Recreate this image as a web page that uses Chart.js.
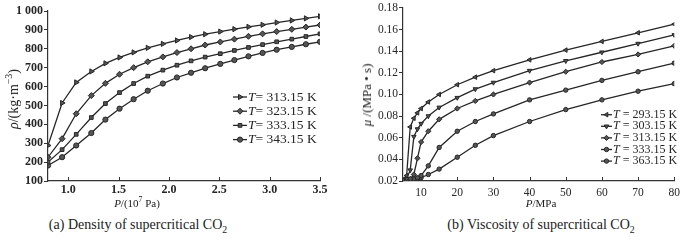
<!DOCTYPE html>
<html><head><meta charset="utf-8">
<script src="https://cdn.jsdelivr.net/npm/chart.js@4.4.1/dist/chart.umd.min.js"></script>
<style>
body{margin:0;background:#fff;width:685px;height:241px;position:relative;overflow:hidden;font-family:'Liberation Serif',serif;color:#222}
.cv{position:absolute;top:0;height:200px}
.t{position:absolute;white-space:nowrap;transform:translate(-50%,-50%)}
.yt{position:absolute;white-space:nowrap;transform:translate(-50%,-50%) rotate(-90deg)}
sup{font-size:70%;line-height:0}
sub{font-size:70%;line-height:0}
</style></head><body>
<div class="cv" style="left:0;width:330px"><canvas id="rhoChart"></canvas></div>
<div class="cv" style="left:350px;width:335px"><canvas id="muChart"></canvas></div>
<div class="yt" style="left:14px;top:99px;font-size:14px"><i>ρ</i>/(kg·m<sup>−3</sup>)</div>
<div class="yt" style="left:367px;top:95px;font-size:13px"><i>μ</i> /(MPa • s)</div>
<div class="t" style="left:137px;top:203px;font-size:11px"><i>P</i>/(10<sup>7</sup> Pa)</div>
<div class="t" style="left:541px;top:203px;font-size:11px"><i>P</i>/MPa</div>
<div class="t" style="left:138px;top:225px;font-size:14px">(a) Density of supercritical CO<sub>2</sub></div>
<div class="t" style="left:541px;top:225px;font-size:14px">(b) Viscosity of supercritical CO<sub>2</sub></div>
<script>
// (a) density, P in 10^7 Pa
const LEFT_P   = [0.8,0.94,1.08,1.23,1.37,1.51,1.65,1.79,1.94,2.08,2.22,2.36,2.51,2.65,2.79,2.93,3.07,3.22,3.36,3.5];
const RHO_313  = [288,513,622,680,723,754,781,805,826,844,862,877,891,904,916,927,939,950,961,972];
const RHO_323  = [226,324,456,552,617,665,700,731,757,780,800,820,836,851,866,879,891,903,915,926];
const RHO_333  = [200,266,347,436,510,568,616,655,687,713,736,756,774,791,807,822,837,851,865,879];
const RHO_343  = [182,226,288,354,425,483,533,578,616,648,673,697,720,740,760,778,795,810,824,837];
const LEFT_T   = ['313.15','323.15','333.15','343.15'];
const LEFT_XT  = [1.0,1.5,2.0,2.5,3.0,3.5];
const LEFT_YT  = [100,200,300,400,500,600,700,800,900,1000];

// (b) viscosity, P in MPa
const RIGHT_P  = [5,6,7,8,9,10,12,15,20,25,30,40,50,60,70,80];
const MU_293   = [0.021,0.025,0.070,0.078,0.083,0.087,0.093,0.100,0.109,0.116,0.122,0.132,0.141,0.149,0.157,0.165];
const MU_303   = [0.021,0.022,0.030,0.061,0.068,0.073,0.080,0.088,0.097,0.105,0.111,0.122,0.131,0.139,0.147,0.155];
const MU_313   = [0.021,0.021,0.022,0.026,0.041,0.056,0.066,0.077,0.087,0.094,0.100,0.111,0.121,0.130,0.137,0.145];
const MU_333   = [0.020,0.021,0.021,0.022,0.023,0.025,0.034,0.051,0.066,0.075,0.082,0.095,0.104,0.113,0.121,0.129];
const MU_363   = [0.020,0.020,0.021,0.021,0.022,0.023,0.026,0.031,0.042,0.053,0.062,0.075,0.086,0.095,0.103,0.110];
const RIGHT_T  = ['293.15','303.15','313.15','333.15','363.15'];
const RIGHT_XT = [10,20,30,40,50,60,70,80];
const RIGHT_YT = [0.02,0.04,0.06,0.08,0.10,0.12,0.14,0.16,0.18];

const INK='#262626', AXIS='#333';
const pts=(xs,ys)=>xs.map((x,i)=>({x,y:ys[i]}));
const ds=(label,data,style,rot,r)=>({label,data,showLine:true,borderColor:INK,borderWidth:1.3,pointStyle:style,pointRotation:rot,pointRadius:r,
  pointBackgroundColor:'#555',pointBorderColor:INK,pointBorderWidth:1,tension:0});

const innerTicks={id:'innerTicks',afterDraw(c){const s=c.scales.x,ctx=c.ctx;ctx.save();ctx.strokeStyle=AXIS;ctx.lineWidth=1;
  s.ticks.forEach(t=>{const x=Math.round(s.getPixelForValue(t.value))+.5;ctx.beginPath();ctx.moveTo(x,s.top);ctx.lineTo(x,s.top-4);ctx.stroke()});ctx.restore()}};

const miniLegend={id:'miniLegend',afterDraw(c,a,o){const ctx=c.ctx;ctx.save();ctx.textBaseline='middle';
  c.data.datasets.forEach((d,i)=>{const y=o.y+i*o.gap;
    ctx.strokeStyle=d.borderColor;ctx.lineWidth=d.borderWidth;ctx.beginPath();ctx.moveTo(o.x,y);ctx.lineTo(o.x+o.len,y);ctx.stroke();
    ctx.fillStyle=d.pointBackgroundColor;ctx.strokeStyle=d.pointBorderColor;ctx.lineWidth=1;
    Chart.helpers.drawPoint(ctx,{pointStyle:d.pointStyle,rotation:d.pointRotation||0,radius:d.pointRadius,borderWidth:1},o.x+o.len/2,y);
    ctx.fillStyle=INK;ctx.font=`italic ${o.size}px "Liberation Serif"`;const tx=o.x+o.len+1;ctx.fillText('T',tx,y);
    const w=ctx.measureText('T').width;ctx.font=`${o.size}px "Liberation Serif"`;ctx.fillText(o.sep+o.labels[i]+' K',tx+w,y)});
  ctx.restore()}};

const axisCommon=(list)=>({
  afterBuildTicks:s=>{s.ticks=list.map(v=>({value:v}))},
  border:{display:true,color:AXIS,width:1.2}
});
const boldTick={family:'Liberation Serif',size:12,weight:'bold'};
const plainTick={family:'Liberation Serif',size:11.5};

new Chart(document.getElementById('rhoChart'),{type:'scatter',
  data:{datasets:[
    ds(LEFT_T[0],pts(LEFT_P,RHO_313),'triangle',90,3),
    ds(LEFT_T[1],pts(LEFT_P,RHO_323),'rectRot',0,3),
    ds(LEFT_T[2],pts(LEFT_P,RHO_333),'rect',0,2.6),
    ds(LEFT_T[3],pts(LEFT_P,RHO_343),'circle',0,2.6)]},
  options:{responsive:true,maintainAspectRatio:false,animation:false,
    layout:{padding:{top:11,right:10,left:0,bottom:0}},
    plugins:{legend:{display:false},tooltip:{enabled:false},
      miniLegend:{x:233,y:97,gap:14.2,len:14,size:13.5,sep:'= ',labels:LEFT_T}},
    scales:{
      x:{type:'linear',min:0.8,max:3.5,...axisCommon(LEFT_XT),
        afterFit:s=>{s.height=19},grid:{display:true,drawOnChartArea:false,drawTicks:false},
        ticks:{font:boldTick,color:INK,padding:2,callback:v=>v.toFixed(1),maxRotation:0,autoSkip:false}},
      y:{min:100,max:1000,...axisCommon(LEFT_YT),
        afterFit:s=>{s.width=48},grid:{drawOnChartArea:false,drawTicks:true,tickLength:4,color:AXIS},
        ticks:{font:boldTick,color:INK,padding:1,autoSkip:false,callback:v=>v===1000?'1 000':v}}
    }},
  plugins:[innerTicks,miniLegend]
});

new Chart(document.getElementById('muChart'),{type:'scatter',
  data:{datasets:[
    ds(RIGHT_T[0],pts(RIGHT_P,MU_293),'triangle',-90,2.6),
    ds(RIGHT_T[1],pts(RIGHT_P,MU_303),'triangle',180,2.6),
    ds(RIGHT_T[2],pts(RIGHT_P,MU_313),'rectRot',0,2.6),
    ds(RIGHT_T[3],pts(RIGHT_P,MU_333),'circle',0,2.2),
    ds(RIGHT_T[4],pts(RIGHT_P,MU_363),'circle',0,2.2)]},
  options:{responsive:true,maintainAspectRatio:false,animation:false,
    layout:{padding:{top:7,right:7,left:0,bottom:0}},
    plugins:{legend:{display:false},tooltip:{enabled:false},
      miniLegend:{x:251,y:114.7,gap:11.6,len:11,size:12,sep:' = ',labels:RIGHT_T}},
    scales:{
      x:{type:'linear',min:5,max:80,...axisCommon(RIGHT_XT),
        afterFit:s=>{s.height=19},grid:{display:true,drawOnChartArea:false,drawTicks:false},
        ticks:{font:plainTick,color:INK,padding:5,maxRotation:0,autoSkip:false}},
      y:{min:0.02,max:0.18,...axisCommon(RIGHT_YT),
        afterFit:s=>{s.width=53},grid:{drawOnChartArea:false,drawTicks:true,tickLength:4,color:AXIS},
        ticks:{font:plainTick,color:INK,padding:1,autoSkip:false,callback:v=>v.toFixed(2)}}
    }},
  plugins:[innerTicks,miniLegend]
});
</script>
</body></html>
